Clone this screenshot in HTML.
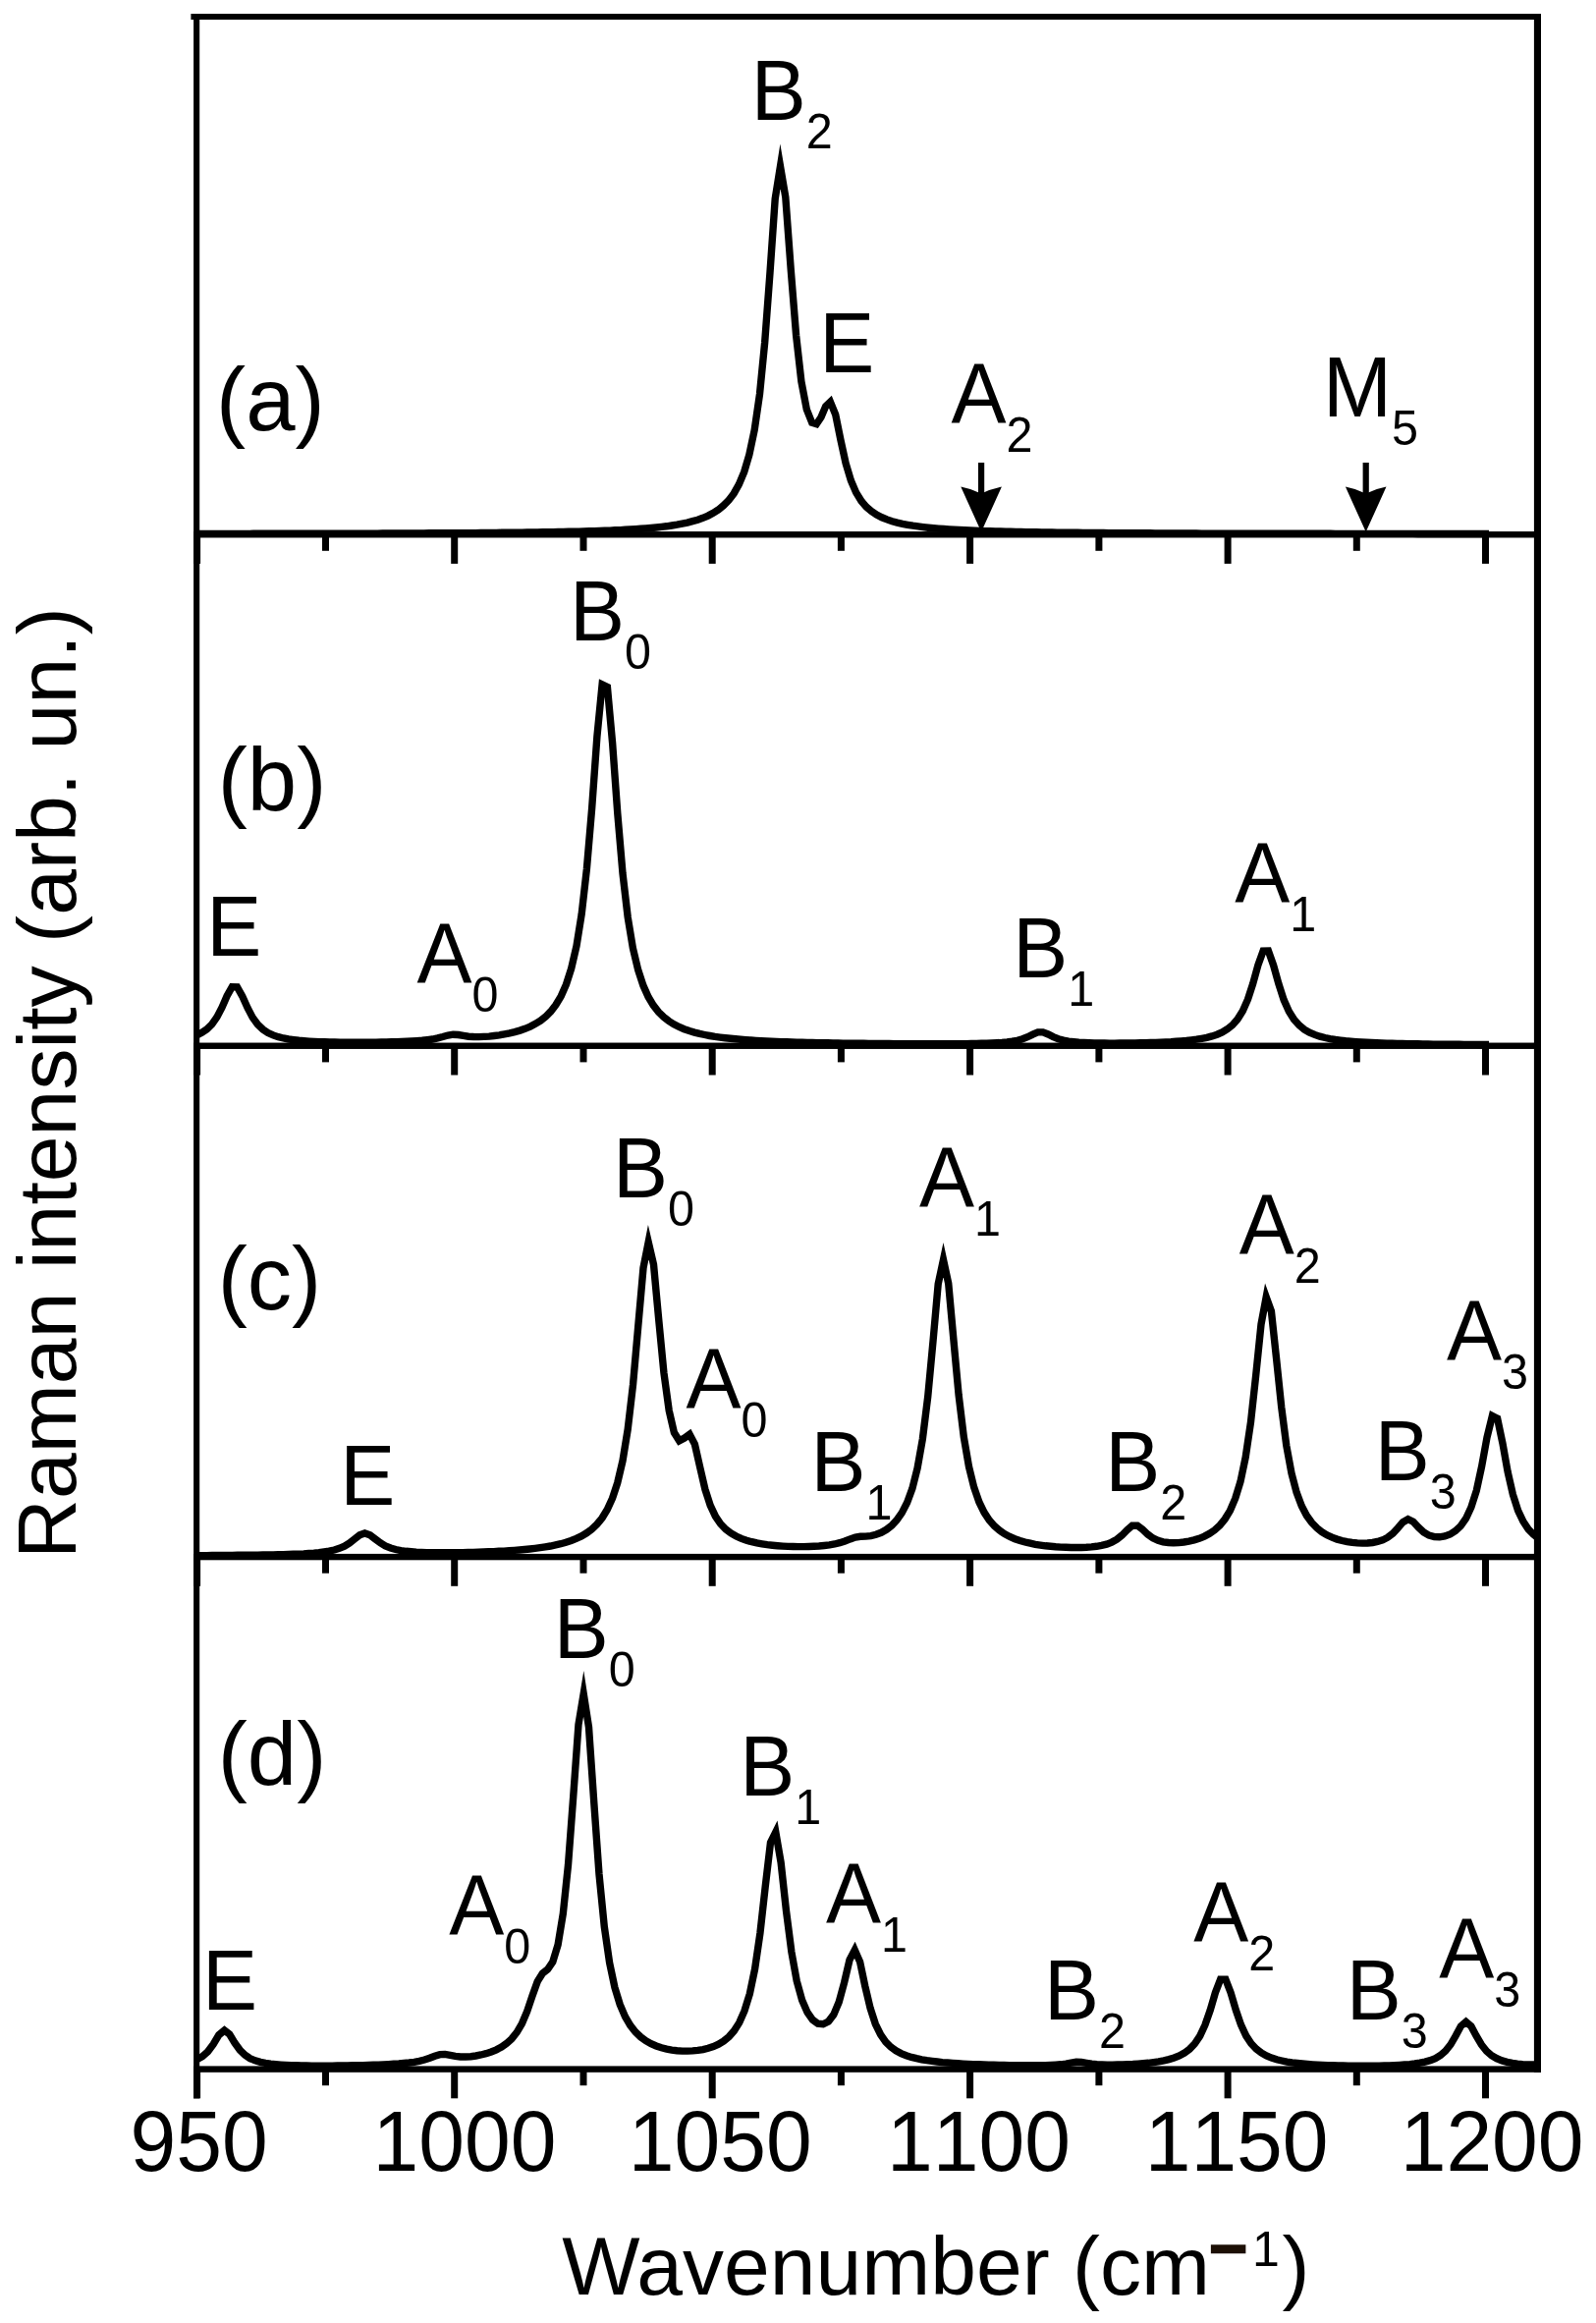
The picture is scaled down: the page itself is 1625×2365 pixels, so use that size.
<!DOCTYPE html><html><head><meta charset="utf-8"><title>Raman spectra</title>
<style>html,body{margin:0;padding:0;background:#fff}svg{display:block}text{font-family:"Liberation Sans",sans-serif;fill:#000}</style></head><body>
<svg width="1625" height="2365" viewBox="0 0 1625 2365">
<rect width="1625" height="2365" fill="#fff"/>
<polyline fill="none" stroke="#000" stroke-width="7.40" stroke-linejoin="miter" stroke-miterlimit="30" points="200.3,543.4 205.6,543.4 210.8,543.4 216.1,543.4 221.3,543.4 226.6,543.4 231.8,543.4 237.1,543.4 242.4,543.4 247.6,543.4 252.9,543.4 258.1,543.3 263.4,543.3 268.7,543.3 273.9,543.3 279.2,543.3 284.4,543.3 289.7,543.3 294.9,543.3 300.2,543.3 305.5,543.3 310.7,543.3 316.0,543.2 321.2,543.2 326.5,543.2 331.8,543.2 337.0,543.2 342.3,543.2 347.5,543.2 352.8,543.2 358.0,543.1 363.3,543.1 368.6,543.1 373.8,543.1 379.1,543.1 384.3,543.1 389.6,543.0 394.9,543.0 400.1,543.0 405.4,543.0 410.6,543.0 415.9,542.9 421.1,542.9 426.4,542.9 431.7,542.9 436.9,542.8 442.2,542.8 447.4,542.8 452.7,542.8 458.0,542.7 463.2,542.7 468.5,542.7 473.7,542.6 479.0,542.6 484.2,542.6 489.5,542.5 494.8,542.5 500.0,542.4 505.3,542.4 510.5,542.3 515.8,542.3 521.1,542.2 526.3,542.2 531.6,542.1 536.8,542.0 542.1,542.0 547.3,541.9 552.6,541.8 557.9,541.7 563.1,541.6 568.4,541.5 573.6,541.4 578.9,541.3 584.2,541.2 589.4,541.1 594.7,540.9 599.9,540.8 605.2,540.6 610.4,540.5 615.7,540.3 621.0,540.1 626.2,539.8 631.5,539.6 636.7,539.3 642.0,539.0 647.3,538.7 652.5,538.3 657.8,537.9 663.0,537.5 668.3,537.0 673.5,536.4 678.8,535.8 684.1,535.0 689.3,534.2 694.6,533.2 699.8,532.1 705.1,530.7 710.4,529.2 715.6,527.3 720.9,525.1 726.1,522.3 731.4,519.0 736.6,514.7 741.9,509.4 747.2,502.4 752.4,493.1 757.7,480.4 762.9,462.8 768.2,437.7 773.5,401.2 778.7,348.4 784.0,277.4 789.2,202.5 794.5,169.3 799.8,200.6 805.2,273.9 810.6,341.3 815.9,388.4 821.3,416.8 826.7,430.3 831.3,431.7 836.0,424.7 840.7,413.6 845.4,409.2 850.7,422.1 855.9,447.7 861.1,471.6 866.4,489.2 871.6,501.4 876.9,510.0 882.1,516.1 887.4,520.6 892.6,524.1 897.9,526.8 903.1,528.9 908.4,530.7 913.6,532.1 918.9,533.3 924.1,534.3 929.4,535.2 934.6,535.9 939.9,536.6 945.1,537.2 950.4,537.7 955.6,538.1 960.9,538.5 966.1,538.9 971.4,539.2 976.6,539.5 981.9,539.7 987.1,540.0 992.4,540.2 997.6,540.4 1002.9,540.6 1008.1,540.7 1013.4,540.9 1018.6,541.0 1023.9,541.2 1029.1,541.3 1034.4,541.4 1039.6,541.5 1044.9,541.6 1050.1,541.7 1055.4,541.8 1060.6,541.9 1065.9,541.9 1071.1,542.0 1076.4,542.1 1081.6,542.1 1086.9,542.2 1092.1,542.3 1097.4,542.3 1102.6,542.4 1107.9,542.4 1113.1,542.5 1118.4,542.5 1123.6,542.5 1128.8,542.6 1134.1,542.6 1139.3,542.7 1144.6,542.7 1149.8,542.7 1155.1,542.8 1160.3,542.8 1165.6,542.8 1170.8,542.8 1176.1,542.9 1181.3,542.9 1186.6,542.9 1191.8,542.9 1197.1,543.0 1202.3,543.0 1207.6,543.0 1212.8,543.0 1218.1,543.0 1223.3,543.1 1228.6,543.1 1233.8,543.1 1239.1,543.1 1244.3,543.1 1249.6,543.1 1254.8,543.1 1260.1,543.2 1265.3,543.2 1270.6,543.2 1275.8,543.2 1281.1,543.2 1286.3,543.2 1291.6,543.2 1296.8,543.2 1302.1,543.3 1307.3,543.3 1312.6,543.3 1317.8,543.3 1323.1,543.3 1328.3,543.3 1333.6,543.3 1338.8,543.3 1344.1,543.3 1349.3,543.3 1354.6,543.3 1359.8,543.4 1365.1,543.4 1370.3,543.4 1375.6,543.4 1380.8,543.4 1386.0,543.4 1391.3,543.4 1396.5,543.4 1401.8,543.4 1407.0,543.4 1412.3,543.4 1417.5,543.4 1422.8,543.4 1428.0,543.4 1433.3,543.4 1438.5,543.4 1443.8,543.5 1449.0,543.5 1454.3,543.5 1459.5,543.5 1464.8,543.5 1470.0,543.5 1475.3,543.5 1480.5,543.5 1485.8,543.5 1491.0,543.5 1496.3,543.5 1501.5,543.5 1506.8,543.5 1512.0,543.5 1516.0,543.5"/>
<polyline fill="none" stroke="#000" stroke-width="7.40" stroke-linejoin="miter" stroke-miterlimit="30" points="200.3,1054.0 205.4,1051.4 210.6,1047.9 215.7,1042.8 220.8,1035.6 226.0,1025.7 231.1,1014.0 236.3,1004.8 241.5,1004.9 246.7,1014.1 252.0,1026.0 257.2,1035.9 262.4,1043.0 267.7,1048.0 272.9,1051.5 278.1,1053.9 283.4,1055.7 288.6,1057.0 293.8,1058.0 299.1,1058.7 304.3,1059.3 309.5,1059.7 314.8,1060.1 320.0,1060.4 325.2,1060.6 330.5,1060.8 335.7,1060.9 340.9,1061.0 346.2,1061.1 351.4,1061.2 356.6,1061.2 361.9,1061.2 367.1,1061.2 372.4,1061.2 377.6,1061.2 382.8,1061.1 388.1,1061.0 393.3,1060.9 398.5,1060.8 403.8,1060.7 409.0,1060.5 414.2,1060.3 419.5,1060.0 424.7,1059.7 429.9,1059.3 435.2,1058.7 440.4,1058.0 445.6,1056.9 450.9,1055.5 456.1,1054.0 461.3,1053.2 466.6,1053.5 471.8,1054.4 477.0,1055.2 482.3,1055.5 487.5,1055.6 492.7,1055.4 498.0,1055.1 503.2,1054.5 508.4,1053.8 513.7,1052.9 518.9,1051.9 524.1,1050.6 529.4,1049.1 534.6,1047.3 539.9,1045.1 545.1,1042.4 550.3,1039.1 555.6,1035.0 560.8,1029.7 566.0,1023.0 571.3,1014.1 576.5,1002.2 581.7,985.9 587.0,963.1 592.2,930.6 597.4,884.6 602.7,822.2 607.9,749.9 613.1,696.8 618.4,699.4 623.6,756.4 628.8,828.3 634.0,889.2 639.2,933.8 644.4,965.3 649.7,987.5 654.9,1003.3 660.1,1015.0 665.3,1023.6 670.5,1030.3 675.8,1035.5 681.0,1039.5 686.2,1042.8 691.4,1045.5 696.6,1047.7 701.9,1049.6 707.1,1051.1 712.3,1052.4 717.5,1053.5 722.7,1054.5 727.9,1055.4 733.2,1056.1 738.4,1056.7 743.6,1057.3 748.8,1057.8 754.0,1058.3 759.3,1058.7 764.5,1059.0 769.7,1059.4 774.9,1059.7 780.1,1059.9 785.4,1060.2 790.6,1060.4 795.8,1060.6 801.0,1060.8 806.2,1060.9 811.4,1061.1 816.7,1061.2 821.9,1061.4 827.1,1061.5 832.3,1061.6 837.5,1061.7 842.8,1061.8 848.0,1061.9 853.2,1062.0 858.4,1062.1 863.6,1062.1 868.9,1062.2 874.1,1062.3 879.3,1062.3 884.5,1062.4 889.7,1062.4 894.9,1062.5 900.2,1062.5 905.4,1062.5 910.6,1062.6 915.8,1062.6 921.0,1062.6 926.3,1062.7 931.5,1062.7 936.7,1062.7 941.9,1062.7 947.1,1062.7 952.4,1062.7 957.6,1062.7 962.8,1062.7 968.0,1062.7 973.2,1062.6 978.4,1062.6 983.7,1062.6 988.9,1062.5 994.1,1062.4 999.3,1062.3 1004.5,1062.2 1009.8,1062.0 1015.0,1061.7 1020.2,1061.4 1025.4,1060.9 1030.6,1060.2 1035.9,1059.3 1041.1,1057.8 1046.3,1055.7 1051.5,1053.1 1056.7,1050.9 1061.9,1050.9 1067.2,1053.0 1072.4,1055.6 1077.6,1057.7 1082.8,1059.1 1088.0,1060.1 1093.2,1060.7 1098.4,1061.2 1103.6,1061.5 1108.9,1061.7 1114.1,1061.9 1119.3,1062.0 1124.5,1062.0 1129.7,1062.1 1134.9,1062.1 1140.1,1062.0 1145.4,1062.0 1150.6,1062.0 1155.8,1061.9 1161.0,1061.8 1166.2,1061.7 1171.4,1061.5 1176.6,1061.4 1181.8,1061.2 1187.1,1060.9 1192.3,1060.7 1197.5,1060.3 1202.7,1059.9 1207.9,1059.5 1213.1,1058.9 1218.3,1058.2 1223.5,1057.3 1228.8,1056.3 1234.0,1054.9 1239.2,1053.2 1244.4,1050.9 1249.6,1047.8 1254.8,1043.6 1260.0,1037.7 1265.3,1029.3 1270.5,1017.5 1275.7,1001.4 1280.9,982.6 1286.1,968.2 1291.4,968.1 1296.6,982.7 1301.9,1001.7 1307.1,1017.8 1312.4,1029.7 1317.6,1038.0 1322.9,1043.9 1328.1,1048.1 1333.3,1051.1 1338.6,1053.4 1343.8,1055.2 1349.1,1056.5 1354.3,1057.6 1359.6,1058.5 1364.8,1059.2 1370.1,1059.8 1375.3,1060.2 1380.6,1060.6 1385.8,1061.0 1391.1,1061.3 1396.3,1061.5 1401.6,1061.8 1406.8,1062.0 1412.1,1062.1 1417.3,1062.3 1422.6,1062.4 1427.8,1062.5 1433.1,1062.7 1438.3,1062.8 1443.6,1062.8 1448.8,1062.9 1454.1,1063.0 1459.3,1063.1 1464.6,1063.1 1469.8,1063.2 1475.1,1063.2 1480.3,1063.3 1485.6,1063.3 1490.8,1063.4 1496.1,1063.4 1501.3,1063.4 1506.6,1063.5 1511.8,1063.5 1516.0,1063.5"/>
<polyline fill="none" stroke="#000" stroke-width="7.40" stroke-linejoin="miter" stroke-miterlimit="30" points="200.3,1583.6 205.5,1583.6 210.7,1583.6 215.9,1583.5 221.0,1583.5 226.2,1583.5 231.4,1583.4 236.6,1583.4 241.8,1583.3 247.0,1583.3 252.2,1583.2 257.3,1583.2 262.5,1583.1 267.7,1583.0 272.9,1583.0 278.1,1582.9 283.3,1582.7 288.5,1582.6 293.6,1582.5 298.8,1582.3 304.0,1582.1 309.2,1581.9 314.4,1581.5 319.6,1581.2 324.7,1580.7 329.9,1580.0 335.1,1579.2 340.3,1578.0 345.5,1576.4 350.7,1574.1 355.9,1570.9 361.0,1566.9 366.2,1562.8 371.4,1561.0 376.7,1562.8 381.9,1566.8 387.2,1570.8 392.4,1573.9 397.7,1576.0 402.9,1577.5 408.2,1578.6 413.4,1579.3 418.7,1579.8 423.9,1580.2 429.2,1580.4 434.4,1580.6 439.7,1580.7 444.9,1580.8 450.2,1580.8 455.4,1580.8 460.7,1580.7 465.9,1580.7 471.2,1580.6 476.4,1580.5 481.7,1580.4 486.9,1580.2 492.2,1580.0 497.4,1579.8 502.7,1579.6 507.9,1579.3 513.2,1579.1 518.4,1578.7 523.7,1578.4 528.9,1578.0 534.2,1577.5 539.4,1577.0 544.7,1576.4 549.9,1575.7 555.2,1574.9 560.5,1574.0 565.7,1572.9 571.0,1571.7 576.2,1570.3 581.5,1568.5 586.7,1566.4 592.0,1563.9 597.2,1560.8 602.5,1556.9 607.7,1551.9 613.0,1545.5 618.2,1537.0 623.5,1525.5 628.7,1509.7 634.0,1487.2 639.2,1455.2 644.5,1409.9 649.7,1350.9 655.0,1290.8 660.2,1264.6 665.5,1287.3 670.7,1343.4 675.9,1397.4 681.2,1436.1 686.4,1458.6 691.6,1466.8 696.9,1464.0 702.1,1460.3 707.4,1470.4 712.7,1493.7 717.9,1516.2 723.2,1532.6 728.5,1543.8 733.7,1551.5 739.0,1557.0 744.3,1561.0 749.6,1564.0 754.8,1566.4 760.1,1568.2 765.4,1569.7 770.7,1570.9 775.9,1571.8 781.2,1572.6 786.5,1573.2 791.8,1573.7 797.0,1574.1 802.3,1574.4 807.6,1574.5 812.9,1574.6 818.1,1574.6 823.4,1574.5 828.7,1574.3 833.9,1574.0 839.2,1573.5 844.5,1572.9 849.8,1572.0 855.0,1570.7 860.3,1569.0 865.6,1566.9 870.9,1565.1 876.1,1564.3 881.4,1564.1 886.7,1563.6 892.0,1562.3 897.2,1560.3 902.5,1557.3 907.8,1553.2 913.0,1547.6 918.3,1540.1 923.6,1529.8 928.9,1515.4 934.1,1494.7 939.4,1464.8 944.7,1422.0 950.0,1365.5 955.2,1307.2 960.5,1282.5 965.7,1306.6 970.9,1363.8 976.1,1420.0 981.3,1463.0 986.5,1493.2 991.7,1514.3 996.9,1529.2 1002.1,1539.8 1007.3,1547.7 1012.5,1553.6 1017.7,1558.1 1022.9,1561.7 1028.1,1564.5 1033.3,1566.7 1038.5,1568.5 1043.7,1570.0 1048.9,1571.2 1054.1,1572.3 1059.3,1573.1 1064.5,1573.8 1069.7,1574.3 1074.9,1574.8 1080.1,1575.1 1085.3,1575.3 1090.5,1575.5 1095.7,1575.5 1100.9,1575.5 1106.1,1575.3 1111.3,1574.9 1116.5,1574.3 1121.6,1573.4 1126.8,1572.1 1132.0,1570.1 1137.2,1567.2 1142.4,1563.0 1147.6,1557.7 1152.8,1553.2 1158.1,1553.1 1163.3,1557.1 1168.6,1562.1 1173.8,1565.9 1179.1,1568.3 1184.3,1569.8 1189.6,1570.5 1194.8,1570.7 1200.0,1570.6 1205.3,1570.0 1210.5,1569.1 1215.8,1567.9 1221.0,1566.3 1226.3,1564.1 1231.5,1561.3 1236.8,1557.7 1242.0,1552.9 1247.2,1546.5 1252.5,1537.8 1257.7,1525.6 1263.0,1508.4 1268.2,1483.5 1273.5,1447.9 1278.7,1400.1 1284.0,1348.3 1289.2,1320.5 1294.4,1334.9 1299.5,1382.3 1304.7,1432.4 1309.8,1471.8 1315.0,1499.9 1320.1,1519.4 1325.3,1533.2 1330.4,1543.0 1335.6,1550.2 1340.8,1555.6 1345.9,1559.6 1351.1,1562.8 1356.2,1565.2 1361.4,1567.1 1366.5,1568.5 1371.7,1569.6 1376.8,1570.4 1382.0,1570.9 1387.2,1571.1 1392.3,1571.0 1397.5,1570.5 1402.6,1569.5 1407.8,1567.9 1412.9,1565.2 1418.1,1561.2 1423.2,1555.7 1428.4,1549.7 1433.6,1546.7 1438.9,1549.3 1444.3,1555.0 1449.6,1559.9 1455.0,1563.1 1460.4,1564.6 1465.7,1564.8 1471.1,1563.9 1476.5,1562.0 1481.8,1558.6 1487.2,1553.6 1492.6,1546.0 1497.9,1534.5 1503.3,1517.5 1508.6,1493.1 1514.0,1463.4 1519.4,1441.5 1524.6,1444.1 1529.9,1469.2 1535.1,1498.3 1540.4,1521.5 1545.6,1537.8 1550.9,1549.0 1556.1,1556.8 1561.4,1562.3 1566.6,1566.4"/>
<polyline fill="none" stroke="#000" stroke-width="7.40" stroke-linejoin="miter" stroke-miterlimit="30" points="200.3,2096.9 205.9,2093.7 211.6,2088.7 217.2,2081.1 222.8,2071.8 228.5,2067.1 233.7,2071.1 238.9,2079.6 244.2,2087.0 249.4,2092.2 254.6,2095.6 259.8,2097.8 265.1,2099.4 270.3,2100.4 275.5,2101.2 280.7,2101.7 286.0,2102.1 291.2,2102.4 296.4,2102.6 301.6,2102.8 306.9,2102.9 312.1,2103.0 317.3,2103.1 322.5,2103.1 327.7,2103.1 333.0,2103.1 338.2,2103.1 343.4,2103.0 348.6,2103.0 353.9,2102.9 359.1,2102.8 364.3,2102.7 369.5,2102.6 374.8,2102.4 380.0,2102.3 385.2,2102.1 390.4,2101.9 395.7,2101.6 400.9,2101.3 406.1,2101.0 411.3,2100.5 416.6,2100.0 421.8,2099.3 427.0,2098.3 432.2,2097.0 437.5,2095.3 442.7,2093.2 447.9,2091.6 453.1,2091.4 458.4,2092.4 463.6,2093.4 468.8,2094.0 474.0,2094.0 479.3,2093.7 484.5,2093.0 489.7,2092.0 494.9,2090.7 500.1,2089.0 505.4,2086.8 510.6,2084.0 515.8,2080.4 521.0,2075.6 526.3,2069.0 531.5,2060.0 536.7,2047.6 541.9,2032.2 547.2,2017.4 552.4,2009.0 557.6,2005.0 562.8,1997.3 568.1,1979.8 573.3,1948.3 578.5,1898.7 583.7,1829.4 589.0,1755.6 594.2,1724.3 599.5,1758.4 604.8,1835.6 610.0,1908.1 615.3,1961.6 620.6,1998.2 625.9,2023.3 631.2,2040.7 636.5,2053.1 641.8,2062.1 647.0,2068.8 652.3,2073.8 657.6,2077.7 662.9,2080.7 668.2,2083.0 673.5,2084.8 678.8,2086.1 684.0,2087.1 689.3,2087.7 694.6,2088.1 699.9,2088.1 705.2,2087.9 710.5,2087.4 715.8,2086.6 721.0,2085.3 726.3,2083.5 731.6,2081.1 736.9,2077.9 742.2,2073.5 747.5,2067.5 752.8,2059.1 758.0,2047.2 763.3,2030.0 768.6,2004.6 773.9,1968.2 779.2,1920.8 784.5,1875.9 789.8,1865.2 795.1,1896.1 800.5,1945.3 805.9,1987.3 811.2,2016.7 816.6,2036.2 822.0,2048.7 827.4,2056.3 832.7,2060.2 838.1,2060.8 843.5,2058.1 848.8,2051.1 854.2,2038.3 859.6,2018.4 865.0,1995.4 870.3,1985.2 875.6,1997.3 880.8,2022.1 886.1,2044.5 891.3,2060.5 896.6,2071.4 901.8,2078.8 907.0,2084.0 912.3,2087.8 917.5,2090.6 922.8,2092.7 928.0,2094.4 933.3,2095.7 938.5,2096.8 943.7,2097.7 949.0,2098.4 954.2,2099.0 959.5,2099.6 964.7,2100.0 970.0,2100.4 975.2,2100.8 980.5,2101.1 985.7,2101.4 990.9,2101.6 996.2,2101.8 1001.4,2102.0 1006.7,2102.2 1011.9,2102.3 1017.2,2102.4 1022.4,2102.5 1027.6,2102.6 1032.9,2102.7 1038.1,2102.7 1043.4,2102.8 1048.6,2102.8 1053.9,2102.8 1059.1,2102.7 1064.4,2102.7 1069.6,2102.5 1074.8,2102.2 1080.1,2101.8 1085.3,2101.1 1090.6,2100.2 1095.8,2099.3 1101.1,2099.4 1106.3,2100.3 1111.6,2101.1 1116.8,2101.7 1122.0,2101.9 1127.3,2102.1 1132.5,2102.1 1137.8,2102.0 1143.0,2101.9 1148.3,2101.7 1153.5,2101.5 1158.7,2101.1 1164.0,2100.7 1169.2,2100.3 1174.5,2099.6 1179.7,2098.9 1185.0,2097.9 1190.2,2096.6 1195.5,2095.0 1200.7,2092.9 1205.9,2090.1 1211.2,2086.1 1216.4,2080.7 1221.7,2072.8 1226.9,2061.7 1232.2,2046.6 1237.4,2028.8 1242.6,2015.2 1247.9,2015.2 1253.1,2028.6 1258.3,2046.3 1263.5,2061.4 1268.7,2072.6 1273.9,2080.5 1279.1,2086.0 1284.3,2090.0 1289.5,2092.9 1294.7,2095.1 1299.9,2096.8 1305.1,2098.0 1310.3,2099.1 1315.6,2099.9 1320.8,2100.5 1326.0,2101.0 1331.2,2101.5 1336.4,2101.9 1341.6,2102.2 1346.8,2102.4 1352.0,2102.6 1357.2,2102.8 1362.4,2102.9 1367.6,2103.0 1372.8,2103.1 1378.0,2103.2 1383.2,2103.2 1388.5,2103.2 1393.7,2103.2 1398.9,2103.2 1404.1,2103.1 1409.3,2103.0 1414.5,2102.9 1419.7,2102.7 1424.9,2102.4 1430.1,2102.0 1435.3,2101.6 1440.5,2101.0 1445.7,2100.2 1450.9,2099.1 1456.2,2097.7 1461.4,2095.6 1466.6,2092.5 1471.8,2088.0 1477.0,2081.5 1482.2,2072.5 1487.4,2062.8 1492.6,2058.4 1497.9,2062.9 1503.1,2072.7 1508.4,2081.7 1513.6,2088.3 1518.8,2092.8 1524.1,2095.8 1529.3,2097.9 1534.6,2099.3 1539.8,2100.4 1545.1,2101.1 1550.3,2101.6 1555.6,2101.9 1560.8,2102.0 1566.1,2102.0"/>
<g fill="#000">
<rect x="194.4" y="14.0" width="1374.6" height="6"/>
<rect x="197.10" y="14.0" width="6.1" height="2122.4"/>
<rect x="1561.90" y="14.0" width="7.1" height="2095.8"/>
<rect x="197.10" y="541.05" width="1371.90" height="6.4"/>
<rect x="197.1" y="544.2" width="7.0" height="29.7"/>
<rect x="328.0" y="544.2" width="7.0" height="16.6"/>
<rect x="459.2" y="544.2" width="7.0" height="29.7"/>
<rect x="590.5" y="544.2" width="7.0" height="16.6"/>
<rect x="721.7" y="544.2" width="7.0" height="29.7"/>
<rect x="852.9" y="544.2" width="7.0" height="16.6"/>
<rect x="984.1" y="544.2" width="7.0" height="29.7"/>
<rect x="1115.4" y="544.2" width="7.0" height="16.6"/>
<rect x="1246.6" y="544.2" width="7.0" height="29.7"/>
<rect x="1377.8" y="544.2" width="7.0" height="16.6"/>
<rect x="1509.0" y="544.2" width="7.0" height="29.7"/>
<rect x="197.10" y="1061.55" width="1371.90" height="6.4"/>
<rect x="197.1" y="1064.8" width="7.0" height="29.7"/>
<rect x="328.0" y="1064.8" width="7.0" height="16.6"/>
<rect x="459.2" y="1064.8" width="7.0" height="29.7"/>
<rect x="590.5" y="1064.8" width="7.0" height="16.6"/>
<rect x="721.7" y="1064.8" width="7.0" height="29.7"/>
<rect x="852.9" y="1064.8" width="7.0" height="16.6"/>
<rect x="984.1" y="1064.8" width="7.0" height="29.7"/>
<rect x="1115.4" y="1064.8" width="7.0" height="16.6"/>
<rect x="1246.6" y="1064.8" width="7.0" height="29.7"/>
<rect x="1377.8" y="1064.8" width="7.0" height="16.6"/>
<rect x="1509.0" y="1064.8" width="7.0" height="29.7"/>
<rect x="197.10" y="1581.90" width="1371.90" height="6.4"/>
<rect x="197.1" y="1585.1" width="7.0" height="29.7"/>
<rect x="328.0" y="1585.1" width="7.0" height="16.6"/>
<rect x="459.2" y="1585.1" width="7.0" height="29.7"/>
<rect x="590.5" y="1585.1" width="7.0" height="16.6"/>
<rect x="721.7" y="1585.1" width="7.0" height="29.7"/>
<rect x="852.9" y="1585.1" width="7.0" height="16.6"/>
<rect x="984.1" y="1585.1" width="7.0" height="29.7"/>
<rect x="1115.4" y="1585.1" width="7.0" height="16.6"/>
<rect x="1246.6" y="1585.1" width="7.0" height="29.7"/>
<rect x="1377.8" y="1585.1" width="7.0" height="16.6"/>
<rect x="1509.0" y="1585.1" width="7.0" height="29.7"/>
<rect x="197.10" y="2103.40" width="1371.90" height="6.4"/>
<rect x="197.1" y="2106.6" width="7.0" height="29.7"/>
<rect x="328.0" y="2106.6" width="7.0" height="16.6"/>
<rect x="459.2" y="2106.6" width="7.0" height="29.7"/>
<rect x="590.5" y="2106.6" width="7.0" height="16.6"/>
<rect x="721.7" y="2106.6" width="7.0" height="29.7"/>
<rect x="852.9" y="2106.6" width="7.0" height="16.6"/>
<rect x="984.1" y="2106.6" width="7.0" height="29.7"/>
<rect x="1115.4" y="2106.6" width="7.0" height="16.6"/>
<rect x="1246.6" y="2106.6" width="7.0" height="29.7"/>
<rect x="1377.8" y="2106.6" width="7.0" height="16.6"/>
<rect x="1509.0" y="2106.6" width="7.0" height="29.7"/>
<rect x="996.0" y="471.0" width="6.2" height="37.5"/><path d="M978.3,495.6 Q989.7,497.8 999.1,502.5 Q1008.5,497.8 1019.9,495.6 L999.1,541.5 Z"/>
<rect x="1387.6" y="471.0" width="6.2" height="37.5"/><path d="M1369.9,495.6 Q1381.3,497.8 1390.7,502.5 Q1400.1,497.8 1411.5,495.6 L1390.7,541.5 Z"/>
</g>
<text transform="translate(132.5,2210) scale(1,1.04)" font-size="84" style="font-kerning:none">950</text>
<text transform="translate(379.6,2210) scale(1,1.04)" font-size="84" style="font-kerning:none">1000</text>
<text transform="translate(639.8,2210) scale(1,1.04)" font-size="84" style="font-kerning:none">1050</text>
<text transform="translate(903.0,2210) scale(1,1.04)" font-size="84" style="font-kerning:none">1100</text>
<text transform="translate(1165.7,2210) scale(1,1.04)" font-size="84" style="font-kerning:none">1150</text>
<text transform="translate(1425.7,2210) scale(1,1.04)" font-size="84" style="font-kerning:none">1200</text>
<text x="572.2" y="2336.2" font-size="84">Wavenumber (cm<tspan x="1231.9" y="2310.9" font-size="64" fill="#1c0f05" stroke="#1c0f05" stroke-width="4.4">−</tspan><tspan x="1274.9" y="2306.8" font-size="50">1</tspan><tspan x="1305.5" y="2336.2">)</tspan></text>
<text transform="translate(77,1586.9) rotate(-90)" font-size="84.2">Raman intensity (arb. un.)</text>
<text x="220.0" y="437.7" font-size="90.5">(a)</text>
<text x="221.7" y="825.1" font-size="90.5">(b)</text>
<text x="221.7" y="1333.0" font-size="90.5">(c)</text>
<text x="221.7" y="1817.0" font-size="90.5">(d)</text>
<text transform="translate(764.8,122.2) scale(1,1.040)" font-size="84">B<tspan font-size="48.5" dy="27.9">2</tspan></text>
<text transform="translate(834.2,378.8) scale(1,1.040)" font-size="84">E</text>
<text transform="translate(968.4,430.5) scale(1,1.040)" font-size="84">A<tspan font-size="48.5" dy="27.9">2</tspan></text>
<text transform="translate(1347.0,424.2) scale(1,1.040)" font-size="84">M<tspan font-size="48.5" dy="27.9">5</tspan></text>
<text transform="translate(580.0,651.8) scale(1,1.040)" font-size="84">B<tspan font-size="48.5" dy="27.9">0</tspan></text>
<text transform="translate(210.3,973.3) scale(1,1.040)" font-size="84">E</text>
<text transform="translate(424.4,1001.4) scale(1,1.040)" font-size="84">A<tspan font-size="48.5" dy="27.9">0</tspan></text>
<text transform="translate(1031.3,995.3) scale(1,1.040)" font-size="84">B<tspan font-size="48.5" dy="27.9">1</tspan></text>
<text transform="translate(1257.3,919.4) scale(1,1.040)" font-size="84">A<tspan font-size="48.5" dy="27.9">1</tspan></text>
<text transform="translate(623.9,1218.8) scale(1,1.040)" font-size="84">B<tspan font-size="48.5" dy="27.9">0</tspan></text>
<text transform="translate(346.3,1532.4) scale(1,1.040)" font-size="84">E</text>
<text transform="translate(698.6,1433.7) scale(1,1.040)" font-size="84">A<tspan font-size="48.5" dy="27.9">0</tspan></text>
<text transform="translate(825.6,1518.3) scale(1,1.040)" font-size="84">B<tspan font-size="48.5" dy="27.9">1</tspan></text>
<text transform="translate(935.9,1228.9) scale(1,1.040)" font-size="84">A<tspan font-size="48.5" dy="27.9">1</tspan></text>
<text transform="translate(1261.7,1277.1) scale(1,1.040)" font-size="84">A<tspan font-size="48.5" dy="27.9">2</tspan></text>
<text transform="translate(1473.1,1384.6) scale(1,1.040)" font-size="84">A<tspan font-size="48.5" dy="27.9">3</tspan></text>
<text transform="translate(1125.2,1518.3) scale(1,1.040)" font-size="84">B<tspan font-size="48.5" dy="27.9">2</tspan></text>
<text transform="translate(1399.8,1506.5) scale(1,1.040)" font-size="84">B<tspan font-size="48.5" dy="27.9">3</tspan></text>
<text transform="translate(563.8,1687.5) scale(1,1.040)" font-size="84">B<tspan font-size="48.5" dy="27.9">0</tspan></text>
<text transform="translate(753.3,1827.8) scale(1,1.040)" font-size="84">B<tspan font-size="48.5" dy="27.9">1</tspan></text>
<text transform="translate(457.3,1969.5) scale(1,1.040)" font-size="84">A<tspan font-size="48.5" dy="27.9">0</tspan></text>
<text transform="translate(205.9,2046.2) scale(1,1.040)" font-size="84">E</text>
<text transform="translate(841.1,1958.0) scale(1,1.040)" font-size="84">A<tspan font-size="48.5" dy="27.9">1</tspan></text>
<text transform="translate(1062.9,2055.9) scale(1,1.040)" font-size="84">B<tspan font-size="48.5" dy="27.9">2</tspan></text>
<text transform="translate(1215.2,1976.9) scale(1,1.040)" font-size="84">A<tspan font-size="48.5" dy="27.9">2</tspan></text>
<text transform="translate(1370.8,2055.9) scale(1,1.040)" font-size="84">B<tspan font-size="48.5" dy="27.9">3</tspan></text>
<text transform="translate(1465.2,2014.2) scale(1,1.040)" font-size="84">A<tspan font-size="48.5" dy="27.9">3</tspan></text>
</svg></body></html>
